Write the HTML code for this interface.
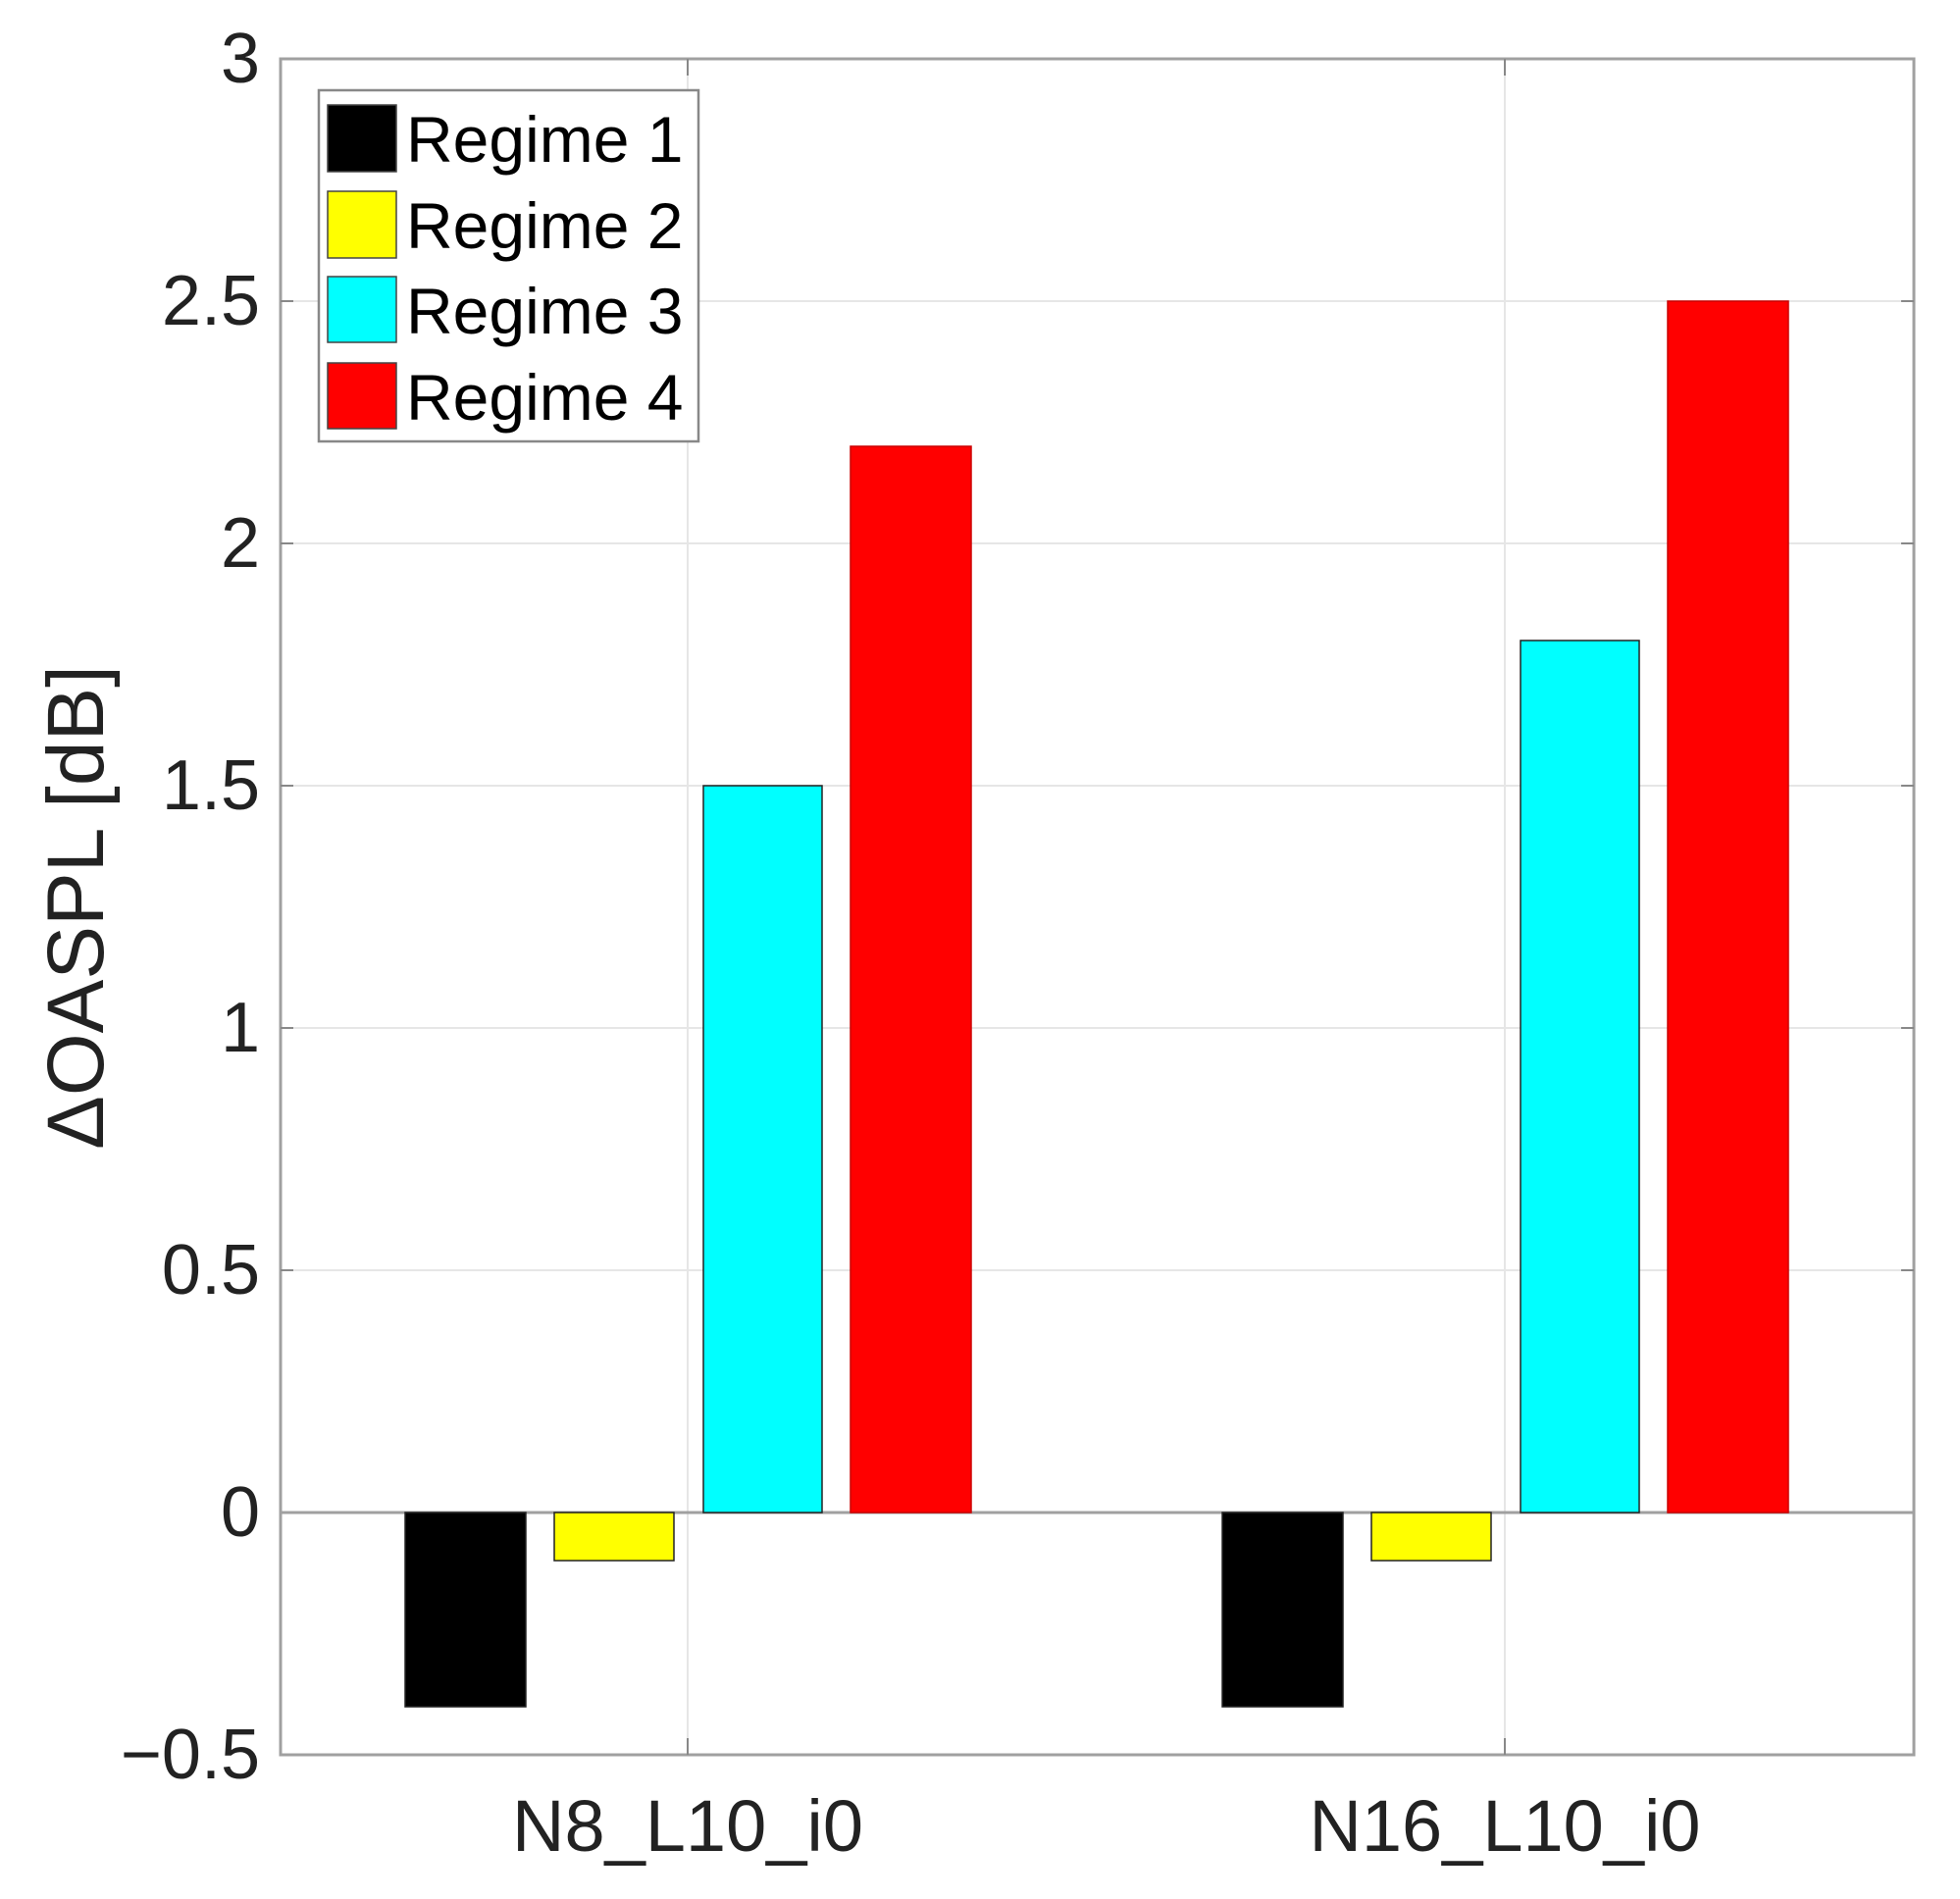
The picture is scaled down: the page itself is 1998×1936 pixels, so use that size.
<!DOCTYPE html>
<html><head><style>body{margin:0;background:#fff}svg{display:block}</style></head><body>
<svg width="1998" height="1936" xmlns="http://www.w3.org/2000/svg" font-family="Liberation Sans, Arial, sans-serif">
<rect width="1998" height="1936" fill="#fff"/>
<g stroke="#e6e6e6" stroke-width="2">
<line x1="286" x2="1951" y1="307" y2="307"/>
<line x1="286" x2="1951" y1="554" y2="554"/>
<line x1="286" x2="1951" y1="801" y2="801"/>
<line x1="286" x2="1951" y1="1048" y2="1048"/>
<line x1="286" x2="1951" y1="1295" y2="1295"/>
<line x1="701" x2="701" y1="60" y2="1789"/>
<line x1="1534" x2="1534" y1="60" y2="1789"/>
</g>
<line x1="286" x2="1951" y1="1542" y2="1542" stroke="#a0a0a0" stroke-width="3"/>
<g stroke="#222" stroke-width="1.5">
<rect x="413" y="1542" width="123" height="198" fill="#000"/>
<rect x="565" y="1542" width="122" height="49" fill="#ff0"/>
<rect x="717" y="801" width="121" height="741" fill="#0ff"/>
<rect x="867" y="455" width="123" height="1087" fill="#f00" stroke="#c00"/>
<rect x="1246" y="1542" width="123" height="198" fill="#000"/>
<rect x="1398" y="1542" width="122" height="49" fill="#ff0"/>
<rect x="1550" y="653" width="121" height="889" fill="#0ff"/>
<rect x="1700" y="307" width="123" height="1235" fill="#f00" stroke="#c00"/>
</g>
<rect x="286" y="60" width="1665" height="1729" fill="none" stroke="#a0a0a0" stroke-width="3"/>
<g stroke="#888" stroke-width="2">
<line x1="286" x2="299" y1="307" y2="307"/><line x1="1951" x2="1938" y1="307" y2="307"/>
<line x1="286" x2="299" y1="554" y2="554"/><line x1="1951" x2="1938" y1="554" y2="554"/>
<line x1="286" x2="299" y1="801" y2="801"/><line x1="1951" x2="1938" y1="801" y2="801"/>
<line x1="286" x2="299" y1="1048" y2="1048"/><line x1="1951" x2="1938" y1="1048" y2="1048"/>
<line x1="286" x2="299" y1="1295" y2="1295"/><line x1="1951" x2="1938" y1="1295" y2="1295"/>
<line x1="701" x2="701" y1="1789" y2="1772"/><line x1="1534" x2="1534" y1="1789" y2="1772"/>
<line x1="701" x2="701" y1="60" y2="77"/><line x1="1534" x2="1534" y1="60" y2="77"/>
</g>
<g font-size="72" fill="#222" text-anchor="end">
<text x="265" y="84">3</text>
<text x="265" y="331">2.5</text>
<text x="265" y="578">2</text>
<text x="265" y="825">1.5</text>
<text x="265" y="1072">1</text>
<text x="265" y="1319">0.5</text>
<text x="265" y="1566">0</text>
<text x="265" y="1813">−0.5</text>
</g>
<g font-size="74" fill="#222" text-anchor="middle">
<text x="701" y="1887">N8_L10_i0</text>
<text x="1534" y="1887">N16_L10_i0</text>
<text font-size="82" transform="translate(105,925) rotate(-90)">ΔOASPL [dB]</text>
</g>
<rect x="325" y="92" width="387" height="358" fill="#fff" stroke="#888" stroke-width="2.5"/>
<g stroke="#444" stroke-width="1.5">
<rect x="334" y="107" width="70" height="68" fill="#000"/>
<rect x="334" y="195" width="70" height="68" fill="#ff0"/>
<rect x="334" y="282" width="70" height="67" fill="#0ff"/>
<rect x="334" y="370" width="70" height="67" fill="#f00"/>
</g>
<g font-size="66" fill="#000">
<text x="414" y="165">Regime 1</text>
<text x="414" y="253">Regime 2</text>
<text x="414" y="340">Regime 3</text>
<text x="414" y="428">Regime 4</text>
</g>
</svg>
</body></html>
